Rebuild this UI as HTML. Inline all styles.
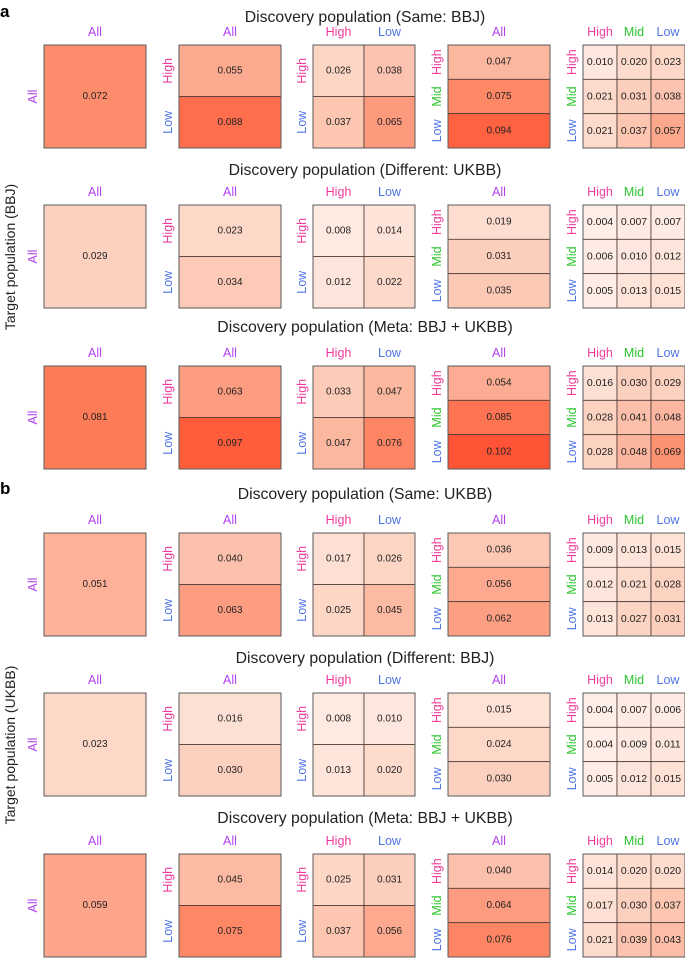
<!DOCTYPE html>
<html><head><meta charset="utf-8"><style>
html,body{margin:0;padding:0;background:#fff;}
svg{display:block;font-family:"Liberation Sans",sans-serif;}
</style></head><body>
<svg id="chart" width="685" height="958" viewBox="0 0 685 958" xmlns="http://www.w3.org/2000/svg">
<text x="0" y="17" font-size="17" font-weight="bold">a</text>
<text x="0" y="494" font-size="17" font-weight="bold">b</text>
<text transform="translate(15,257) rotate(-90)" text-anchor="middle" font-size="14" fill="#222">Target population (BBJ)</text>
<text transform="translate(15,745) rotate(-90)" text-anchor="middle" font-size="14" fill="#222">Target population (UKBB)</text>
</svg>
<script>
const rowTitles = ["Discovery population (Same: BBJ)","Discovery population (Different: UKBB)","Discovery population (Meta: BBJ + UKBB)","Discovery population (Same: UKBB)","Discovery population (Different: BBJ)","Discovery population (Meta: BBJ + UKBB)"];
const allValues = [0.072,0.029,0.081,0.051,0.023,0.059];
const ancestryValues = [[0.055,0.088],[0.023,0.034],[0.063,0.097],[0.040,0.063],[0.016,0.030],[0.045,0.075]];
const ancestryPairValues = [
 [[0.026,0.038],[0.037,0.065]],
 [[0.008,0.014],[0.012,0.022]],
 [[0.033,0.047],[0.047,0.076]],
 [[0.017,0.026],[0.025,0.045]],
 [[0.008,0.010],[0.013,0.020]],
 [[0.025,0.031],[0.037,0.056]]];
const tertileValues = [[0.047,0.075,0.094],[0.019,0.031,0.035],[0.054,0.085,0.102],[0.036,0.056,0.062],[0.015,0.024,0.030],[0.040,0.064,0.076]];
const tertilePairValues = [
 [[0.010,0.020,0.023],[0.021,0.031,0.038],[0.021,0.037,0.057]],
 [[0.004,0.007,0.007],[0.006,0.010,0.012],[0.005,0.013,0.015]],
 [[0.016,0.030,0.029],[0.028,0.041,0.048],[0.028,0.048,0.069]],
 [[0.009,0.013,0.015],[0.012,0.021,0.028],[0.013,0.027,0.031]],
 [[0.004,0.007,0.006],[0.004,0.009,0.011],[0.005,0.012,0.015]],
 [[0.014,0.020,0.020],[0.017,0.030,0.037],[0.021,0.039,0.043]]];

const svg = document.getElementById('chart');
const NS = "http://www.w3.org/2000/svg";
const rowTops = [45,205,366,533,693,854];
const titleYs = [22,175,332,499,663,823];
const colX = [44,179,313,448,583];
const W = 102, H = 103;
const labelColors = {All:"#b442f0",High:"#f03c9c",Mid:"#2cc42c",Low:"#4f74e6"};
const stops = [[0,[255,243,238]],[0.03,[252,208,190]],[0.06,[252,163,136]],[0.08,[254,125,90]],[0.1,[255,86,54]],[0.12,[240,60,40]]];
function color(v){
  for(let i=1;i<stops.length;i++){
    if(v<=stops[i][0]){const a=stops[i-1],b=stops[i];const t=(v-a[0])/(b[0]-a[0]);
      const c=a[1].map((x,k)=>Math.round(x+(b[1][k]-x)*t));return `rgb(${c.join(',')})`;}
  }
  return 'rgb(240,60,40)';
}
function mk(tag, attrs, parent){const e=document.createElementNS(NS,tag);for(const k in attrs)e.setAttribute(k,attrs[k]);(parent||svg).appendChild(e);return e;}
function label(txt,x,y,rot,parent){
  const t=mk('text',{x:x,y:y,'text-anchor':'middle','font-size':12.5,fill:labelColors[txt]},parent);
  if(rot){t.setAttribute('transform',`rotate(-90,${x},${y})`);}
  t.setAttribute('dominant-baseline','central');
  t.textContent=txt;
  
  
}
function grid(r,p,matrix,rowLabels,colLabels){
  const g=mk('g',{});
  
  
  const x0=colX[p], y0=rowTops[r];
  const nr=matrix.length, nc=matrix[0].length;
  const cw=W/nc, ch=H/nr;
  for(let i=0;i<nr;i++)for(let j=0;j<nc;j++){
    const v=matrix[i][j];
    const cx=x0+j*cw, cy=y0+i*ch;
    const rc=mk('rect',{x:cx,y:cy,width:cw,height:ch,fill:color(v),stroke:'#4a3a36','stroke-width':0.8},g);
    
    
    const t=mk('text',{x:cx+cw/2,y:cy+ch/2,'text-anchor':'middle','dominant-baseline':'central','font-size':nc===3?10.5:10,fill:'#222'},g);
    t.textContent=v.toFixed(3);
    
    
  }
  const b=mk('rect',{x:x0,y:y0,width:W,height:H,fill:'none',stroke:'#5a5a5a','stroke-width':1},g);
  
  
  colLabels.forEach((l,j)=>label(l,x0+cw*(j+0.5),y0-13,false,g));
  rowLabels.forEach((l,i)=>label(l,x0-11,y0+ch*(i+0.5),true,g));
}
for(let r=0;r<6;r++){
  const t=mk('text',{x:365,y:titleYs[r],'text-anchor':'middle','font-size':15.8,fill:'#222'});
  t.textContent=rowTitles[r];
  
  
  grid(r,0,[[allValues[r]]],['All'],['All']);
  grid(r,1,ancestryValues[r].map(v=>[v]),['High','Low'],['All']);
  grid(r,2,ancestryPairValues[r],['High','Low'],['High','Low']);
  grid(r,3,tertileValues[r].map(v=>[v]),['High','Mid','Low'],['All']);
  grid(r,4,tertilePairValues[r],['High','Mid','Low'],['High','Mid','Low']);
}
</script>
</body></html>
